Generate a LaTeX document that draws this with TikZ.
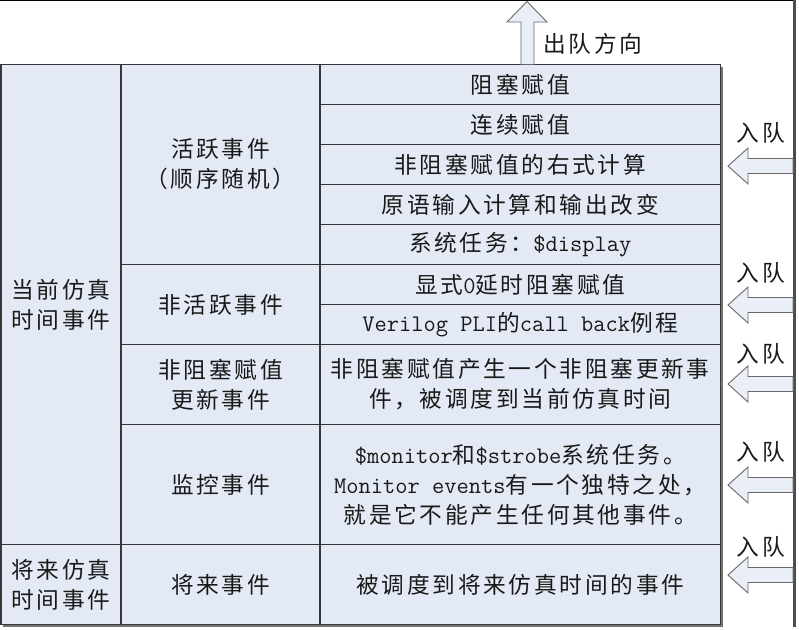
\documentclass[tikz,border=0pt]{standalone}
\usepackage{fontspec}
\setmainfont{Noto Sans CJK SC}[LetterSpace=12]
\newcommand\mt[1]{{\fontsize{23.8}{30}\ttfamily #1}}
\definecolor{cellfill}{RGB}{228,234,245}
\definecolor{arrfill}{RGB}{233,238,247}
\definecolor{tabline}{RGB}{55,55,55}
\definecolor{arrline}{RGB}{105,105,105}
\definecolor{txt}{RGB}{25,25,25}
\begin{document}
\begin{tikzpicture}[x=1pt,y=-1pt,
  cell/.style={draw=tabline, fill=cellfill, line width=1.2pt, inner sep=0pt, outer sep=0pt,
    align=center, text=txt, font={\fontsize{22.7}{30}\selectfont}},
  w1/.style={cell, minimum width=120pt},
  w2/.style={cell, minimum width=199pt},
  w3/.style={cell, minimum width=400.5pt},
  blockarrow/.style={draw=arrline, fill=arrfill, line width=0.9pt, line join=miter},
  lbl/.style={text=txt, inner sep=0pt, font={\fontsize{22.7}{30}\selectfont}}
]
\useasboundingbox (0,0) rectangle (799,629);
% outer frame
\draw[black, line width=1.2pt] (0,0.6) -- (795,0.6);
\draw[black!70, line width=2.2pt] (794.5,0) -- (794.5,627);
% shadow
\fill[black!55] (3,67) rectangle (723,627);
% column 1
\node[w1, minimum height=480pt] (c1a) at (61,304.5) {当前仿真\\时间事件};
\node[w1, minimum height=80pt] (c1b) at (61,584.5) {将来仿真\\时间事件};
% column 2
\node[w2, minimum height=200pt] (c2a) at (220.5,164.5) {活跃事件\\（顺序随机）};
\node[w2, minimum height=80pt] (c2b) at (220.5,304.5) {非活跃事件};
\node[w2, minimum height=80pt] (c2c) at (220.5,384.5) {非阻塞赋值\\更新事件};
\node[w2, minimum height=120pt] (c2d) at (220.5,484.5) {监控事件};
\node[w2, minimum height=80pt] (c2e) at (220.5,584.5) {将来事件};
% column 3
\node[w3, minimum height=40pt] (r1) at (520.25,84.5) {阻塞赋值};
\node[w3, minimum height=40pt] (r2) at (520.25,124.5) {连续赋值};
\node[w3, minimum height=40pt] (r3) at (520.25,164.5) {非阻塞赋值的右式计算};
\node[w3, minimum height=40pt] (r4) at (520.25,204.5) {原语输入计算和输出改变};
\node[w3, minimum height=40pt] (r5) at (520.25,244.5) {系统任务：\mt{\$display}};
\node[w3, minimum height=40pt] (r6) at (520.25,284.5) {显式\mt{0}延时阻塞赋值};
\node[w3, minimum height=40pt] (r7) at (520.25,324.5) {\mt{Verilog PLI}的\mt{call back}例程};
\node[w3, minimum height=80pt] (r8) at (520.25,384.5) {非阻塞赋值产生一个非阻塞更新事\\件，被调度到当前仿真时间};
\node[w3, minimum height=120pt] (r9) at (520.25,484.5) {\mt{\$monitor}和\mt{\$strobe}系统任务。\\\mt{Monitor events}有一个独特之处，\\就是它不能产生任何其他事件。};
\node[w3, minimum height=80pt] (r10) at (520.25,584.5) {被调度到将来仿真时间的事件};
% dequeue arrow
\draw[blockarrow] (527,1.5) -- (547,22) -- (534,22) -- (534,64.5) -- (521,64.5) -- (521,22) -- (507,22) -- cycle;
\node[lbl, anchor=west] (outl) at (543,44) {出队方向};
% enqueue arrows
\foreach \c/\l [count=\i] in {166/133, 305/273, 384/354, 485/452, 575/547} {
  \draw[blockarrow] (728,\c) -- (748,\c-18) -- (748,\c-7.5) -- (793,\c-7.5) -- (793,\c+7.5) -- (748,\c+7.5) -- (748,\c+18) -- cycle;
  \node[lbl] (in\i) at (761,\l) {入队};
}
\end{tikzpicture}
\end{document}
